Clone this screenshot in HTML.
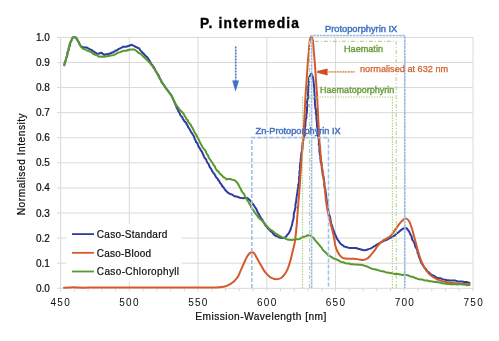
<!DOCTYPE html>
<html><head><meta charset="utf-8"><style>
html,body{margin:0;padding:0;background:#fff;}
svg{display:block;font-family:"Liberation Sans",Arial,sans-serif;}
.t{stroke:#0D0D0D;stroke-width:0.2px;}
</style></head><body>
<svg width="499" height="341" viewBox="0 0 499 341">
<rect width="499" height="341" fill="#fff"/>
<line x1="60.60" y1="263.21" x2="473.04" y2="263.21" stroke="#D9D9D9" stroke-width="1"/>
<line x1="60.60" y1="238.12" x2="473.04" y2="238.12" stroke="#D9D9D9" stroke-width="1"/>
<line x1="60.60" y1="213.03" x2="473.04" y2="213.03" stroke="#D9D9D9" stroke-width="1"/>
<line x1="60.60" y1="187.94" x2="473.04" y2="187.94" stroke="#D9D9D9" stroke-width="1"/>
<line x1="60.60" y1="162.85" x2="473.04" y2="162.85" stroke="#D9D9D9" stroke-width="1"/>
<line x1="60.60" y1="137.76" x2="473.04" y2="137.76" stroke="#D9D9D9" stroke-width="1"/>
<line x1="60.60" y1="112.67" x2="473.04" y2="112.67" stroke="#D9D9D9" stroke-width="1"/>
<line x1="60.60" y1="87.58" x2="473.04" y2="87.58" stroke="#D9D9D9" stroke-width="1"/>
<line x1="60.60" y1="62.49" x2="473.04" y2="62.49" stroke="#D9D9D9" stroke-width="1"/>
<line x1="60.60" y1="37.40" x2="473.04" y2="37.40" stroke="#D9D9D9" stroke-width="1"/>
<line x1="129.34" y1="37.40" x2="129.34" y2="288.30" stroke="#D9D9D9" stroke-width="1"/>
<line x1="198.08" y1="37.40" x2="198.08" y2="288.30" stroke="#D9D9D9" stroke-width="1"/>
<line x1="266.82" y1="37.40" x2="266.82" y2="288.30" stroke="#D9D9D9" stroke-width="1"/>
<line x1="335.56" y1="37.40" x2="335.56" y2="288.30" stroke="#D9D9D9" stroke-width="1"/>
<line x1="404.30" y1="37.40" x2="404.30" y2="288.30" stroke="#D9D9D9" stroke-width="1"/>
<line x1="473.04" y1="37.40" x2="473.04" y2="288.30" stroke="#D9D9D9" stroke-width="1"/>
<line x1="60.60" y1="37.40" x2="60.60" y2="291.50" stroke="#D9D9D9" stroke-width="1"/>
<line x1="57.00" y1="288.30" x2="473.54" y2="288.30" stroke="#D9D9D9" stroke-width="1"/>
<line x1="57.00" y1="263.21" x2="60.60" y2="263.21" stroke="#D9D9D9" stroke-width="1"/>
<line x1="57.00" y1="238.12" x2="60.60" y2="238.12" stroke="#D9D9D9" stroke-width="1"/>
<line x1="57.00" y1="213.03" x2="60.60" y2="213.03" stroke="#D9D9D9" stroke-width="1"/>
<line x1="57.00" y1="187.94" x2="60.60" y2="187.94" stroke="#D9D9D9" stroke-width="1"/>
<line x1="57.00" y1="162.85" x2="60.60" y2="162.85" stroke="#D9D9D9" stroke-width="1"/>
<line x1="57.00" y1="137.76" x2="60.60" y2="137.76" stroke="#D9D9D9" stroke-width="1"/>
<line x1="57.00" y1="112.67" x2="60.60" y2="112.67" stroke="#D9D9D9" stroke-width="1"/>
<line x1="57.00" y1="87.58" x2="60.60" y2="87.58" stroke="#D9D9D9" stroke-width="1"/>
<line x1="57.00" y1="62.49" x2="60.60" y2="62.49" stroke="#D9D9D9" stroke-width="1"/>
<line x1="57.00" y1="37.40" x2="60.60" y2="37.40" stroke="#D9D9D9" stroke-width="1"/>
<line x1="74.35" y1="288.30" x2="74.35" y2="291.50" stroke="#D9D9D9" stroke-width="1"/>
<line x1="88.10" y1="288.30" x2="88.10" y2="291.50" stroke="#D9D9D9" stroke-width="1"/>
<line x1="101.84" y1="288.30" x2="101.84" y2="291.50" stroke="#D9D9D9" stroke-width="1"/>
<line x1="115.59" y1="288.30" x2="115.59" y2="291.50" stroke="#D9D9D9" stroke-width="1"/>
<line x1="129.34" y1="288.30" x2="129.34" y2="291.50" stroke="#D9D9D9" stroke-width="1"/>
<line x1="143.09" y1="288.30" x2="143.09" y2="291.50" stroke="#D9D9D9" stroke-width="1"/>
<line x1="156.84" y1="288.30" x2="156.84" y2="291.50" stroke="#D9D9D9" stroke-width="1"/>
<line x1="170.58" y1="288.30" x2="170.58" y2="291.50" stroke="#D9D9D9" stroke-width="1"/>
<line x1="184.33" y1="288.30" x2="184.33" y2="291.50" stroke="#D9D9D9" stroke-width="1"/>
<line x1="198.08" y1="288.30" x2="198.08" y2="291.50" stroke="#D9D9D9" stroke-width="1"/>
<line x1="211.83" y1="288.30" x2="211.83" y2="291.50" stroke="#D9D9D9" stroke-width="1"/>
<line x1="225.58" y1="288.30" x2="225.58" y2="291.50" stroke="#D9D9D9" stroke-width="1"/>
<line x1="239.32" y1="288.30" x2="239.32" y2="291.50" stroke="#D9D9D9" stroke-width="1"/>
<line x1="253.07" y1="288.30" x2="253.07" y2="291.50" stroke="#D9D9D9" stroke-width="1"/>
<line x1="266.82" y1="288.30" x2="266.82" y2="291.50" stroke="#D9D9D9" stroke-width="1"/>
<line x1="280.57" y1="288.30" x2="280.57" y2="291.50" stroke="#D9D9D9" stroke-width="1"/>
<line x1="294.32" y1="288.30" x2="294.32" y2="291.50" stroke="#D9D9D9" stroke-width="1"/>
<line x1="308.06" y1="288.30" x2="308.06" y2="291.50" stroke="#D9D9D9" stroke-width="1"/>
<line x1="321.81" y1="288.30" x2="321.81" y2="291.50" stroke="#D9D9D9" stroke-width="1"/>
<line x1="335.56" y1="288.30" x2="335.56" y2="291.50" stroke="#D9D9D9" stroke-width="1"/>
<line x1="349.31" y1="288.30" x2="349.31" y2="291.50" stroke="#D9D9D9" stroke-width="1"/>
<line x1="363.06" y1="288.30" x2="363.06" y2="291.50" stroke="#D9D9D9" stroke-width="1"/>
<line x1="376.80" y1="288.30" x2="376.80" y2="291.50" stroke="#D9D9D9" stroke-width="1"/>
<line x1="390.55" y1="288.30" x2="390.55" y2="291.50" stroke="#D9D9D9" stroke-width="1"/>
<line x1="404.30" y1="288.30" x2="404.30" y2="291.50" stroke="#D9D9D9" stroke-width="1"/>
<line x1="418.05" y1="288.30" x2="418.05" y2="291.50" stroke="#D9D9D9" stroke-width="1"/>
<line x1="431.80" y1="288.30" x2="431.80" y2="291.50" stroke="#D9D9D9" stroke-width="1"/>
<line x1="445.54" y1="288.30" x2="445.54" y2="291.50" stroke="#D9D9D9" stroke-width="1"/>
<line x1="459.29" y1="288.30" x2="459.29" y2="291.50" stroke="#D9D9D9" stroke-width="1"/>
<line x1="473.04" y1="288.30" x2="473.04" y2="291.50" stroke="#D9D9D9" stroke-width="1"/>
<rect x="66" y="224" width="116" height="58" fill="#fff"/>
<polyline points="64.3,65.2 64.6,63.3 65.4,61.6 65.8,59.8 66.4,58.0 66.9,56.2 67.4,54.7 67.4,53.0 67.8,51.4 68.7,50.0 68.7,48.4 69.1,46.8 70.0,45.4 70.1,43.8 70.5,42.2 71.4,40.8 71.9,39.2 72.6,37.7 74.3,37.0 76.1,37.7 76.9,39.2 77.8,40.7 78.9,42.4 79.6,44.3 81.4,46.8 84.5,47.4 87.0,47.6 88.5,48.5 90.0,49.4 91.7,50.0 93.4,51.3 95.2,52.6 96.8,53.4 98.5,53.8 101.5,52.8 102.9,53.9 104.4,54.9 105.9,54.2 107.6,54.3 109.1,53.8 110.7,53.3 112.2,52.5 113.8,52.0 115.2,50.8 117.1,50.3 118.5,49.1 120.1,48.3 121.7,47.6 123.2,46.7 126.1,46.7 129.0,45.8 131.8,44.8 134.4,46.2 137.0,47.5 139.2,48.4 140.1,50.1 141.4,51.4 142.6,52.9 144.1,54.1 145.2,55.6 146.7,56.7 148.5,58.9 149.4,60.4 150.2,62.0 151.2,63.9 152.6,65.5 153.7,67.1 154.8,68.8 155.3,70.4 156.2,71.9 157.2,73.2 158.3,74.9 159.2,76.7 159.8,78.6 161.0,80.2 161.5,82.1 162.8,83.6 164.2,85.5 165.5,87.5 166.4,88.9 167.6,90.1 168.5,91.5 169.9,93.4 171.3,95.2 172.3,97.2 173.2,99.3 174.0,100.9 174.6,102.7 175.4,104.3 176.2,106.0 176.6,107.6 177.5,108.9 178.0,110.5 178.8,111.9 179.7,113.2 180.2,114.8 181.2,116.1 182.4,117.3 182.8,118.9 183.8,120.2 184.7,121.6 186.1,122.6 186.6,124.2 187.6,125.6 188.2,127.1 189.1,128.5 190.1,129.8 190.7,131.5 191.7,132.9 192.6,134.3 193.5,135.7 194.3,137.1 194.6,138.8 195.5,140.2 196.0,141.9 197.4,143.2 197.9,144.9 198.6,146.7 199.7,148.2 200.6,149.8 201.7,151.3 202.5,153.0 203.2,154.7 203.9,156.4 204.7,158.0 206.1,159.3 206.7,161.1 207.5,162.8 208.7,164.2 209.2,166.0 210.2,167.6 211.3,169.1 212.1,170.9 213.1,172.6 214.4,174.0 215.3,175.5 216.0,177.2 217.4,178.4 218.2,180.0 219.4,181.3 220.0,182.9 221.3,184.2 222.0,185.8 223.4,187.2 224.5,188.9 225.6,190.5 227.3,192.1 229.1,193.5 230.8,194.1 232.4,194.7 233.8,195.8 235.3,196.5 237.0,196.6 238.5,197.2 240.0,197.8 241.6,198.1 243.2,198.2 245.2,198.0 247.3,197.9 248.8,199.2 250.2,200.5 251.3,201.9 252.3,203.4 253.5,204.7 254.4,206.3 255.5,207.9 256.5,209.4 257.1,210.9 257.7,212.4 258.7,213.8 259.4,215.2 260.3,216.7 261.0,218.2 262.2,219.5 262.9,221.1 264.2,222.8 265.0,224.8 266.4,226.4 267.8,228.0 269.1,229.6 270.5,231.1 272.1,232.2 273.3,233.8 274.6,235.2 276.1,236.0 277.9,236.4 279.3,237.5 281.3,237.9 283.4,238.1 284.9,237.3 286.4,236.4 287.1,234.9 288.4,233.7 289.3,232.3 290.6,229.5 291.1,227.5 291.9,225.5 292.3,223.5 292.6,221.6 293.2,219.8 293.6,218.0 293.8,216.1 293.8,214.2 294.1,212.4 294.8,210.6 295.0,208.8 295.6,207.1 295.3,205.3 295.7,203.5 296.1,201.8 296.3,200.0 296.4,198.3 296.7,196.7 296.9,195.1 297.2,193.4 297.5,191.8 297.6,190.2 297.9,188.5 298.4,186.9 298.1,185.2 298.7,183.6 298.9,182.0 299.2,180.3 299.0,178.6 299.1,176.9 299.6,175.2 299.4,173.5 299.5,171.8 299.8,170.2 300.1,168.5 299.8,166.7 300.1,165.1 300.2,163.4 300.7,161.7 300.6,160.0 300.8,158.3 301.3,156.6 301.1,154.8 301.4,153.1 301.8,151.4 302.2,149.7 302.2,148.0 302.4,146.2 302.5,144.5 302.6,142.7 303.2,141.0 303.2,139.2 303.6,137.5 304.0,135.8 304.3,134.2 304.1,132.4 304.3,130.7 304.9,129.1 305.0,127.4 305.4,125.7 305.4,124.0 305.5,122.3 305.6,120.5 305.9,118.8 306.5,117.2 306.3,115.4 306.6,113.7 306.9,112.0 307.0,110.3 307.0,108.6 307.1,106.9 307.5,105.2 307.1,103.4 307.0,101.7 307.4,100.0 307.9,98.4 307.9,96.7 308.1,95.0 307.8,93.3 308.3,91.7 308.1,90.0 308.5,88.4 308.1,86.8 308.6,85.2 308.8,83.6 308.6,82.0 309.0,80.0 309.1,78.0 309.7,76.0 310.3,74.5 311.1,73.6 311.9,74.5 312.5,76.0 313.1,78.0 313.3,80.0 313.6,82.0 313.8,83.6 313.9,85.2 314.1,86.8 314.4,88.4 314.2,90.0 314.3,91.7 314.6,93.3 314.4,95.0 315.0,96.6 314.5,98.4 314.9,100.0 314.9,101.7 314.9,103.5 315.1,105.2 315.2,106.9 315.5,108.6 316.1,110.3 315.9,112.0 315.8,113.7 316.4,115.4 316.5,117.1 316.4,118.9 316.7,120.6 316.9,122.3 317.0,124.0 316.9,125.7 317.3,127.4 317.6,129.1 317.9,130.7 317.6,132.5 318.1,134.1 318.0,135.8 318.4,137.5 318.7,139.2 318.9,141.0 318.9,142.8 318.8,144.5 319.5,146.2 319.4,148.0 319.4,149.7 319.4,151.5 319.7,153.2 319.9,154.9 320.6,156.5 320.3,158.3 320.6,160.0 320.6,161.7 321.4,163.3 321.5,165.0 321.8,166.6 321.8,168.3 322.1,170.0 322.4,171.6 322.6,173.3 322.7,175.0 323.5,176.5 323.7,178.2 323.9,179.8 324.2,181.4 324.5,183.1 324.1,184.8 324.7,186.4 324.7,188.1 325.5,189.7 325.4,191.4 325.8,193.0 326.0,194.6 326.2,196.3 326.3,198.0 326.6,199.6 327.0,201.2 327.1,202.9 327.6,204.6 327.8,206.3 328.2,208.0 328.2,209.8 328.4,211.5 328.8,213.2 329.3,214.9 329.9,216.5 330.3,218.2 330.5,219.9 330.8,221.6 331.1,223.3 331.7,224.9 332.4,226.6 332.7,228.5 333.4,230.2 334.1,231.9 334.7,233.7 335.5,235.1 336.2,236.6 336.7,238.2 337.6,239.6 338.6,240.9 339.4,242.4 340.5,243.7 342.4,245.1 344.2,246.6 345.9,246.9 347.6,247.5 349.3,247.9 351.5,248.0 353.7,247.9 356.0,248.0 358.1,248.7 360.1,249.2 362.0,249.7 364.0,250.3 366.3,250.0 368.4,249.1 370.5,248.6 372.3,247.5 373.7,246.5 375.4,245.8 376.7,244.6 378.3,244.0 379.6,243.0 381.1,242.4 382.6,241.6 383.9,240.7 385.5,240.2 387.4,239.5 389.2,238.4 391.1,237.6 392.9,236.5 394.9,235.3 396.5,233.6 398.5,232.3 400.2,230.7 401.7,229.7 403.1,228.5 405.0,228.5 406.8,228.2 407.7,229.8 409.0,231.2 409.7,232.9 410.3,234.4 411.3,235.8 411.8,237.4 412.0,239.1 412.8,240.5 413.8,241.9 414.4,243.3 415.0,244.8 415.2,246.5 416.1,247.9 416.9,249.4 417.5,251.0 417.5,252.8 418.6,254.3 418.6,256.1 419.4,257.6 420.1,259.4 420.8,261.3 421.5,263.1 422.6,264.8 423.6,266.3 424.4,267.8 425.9,268.9 426.6,270.5 427.9,271.8 429.4,272.9 430.8,274.2 432.3,275.3 434.0,275.8 435.4,276.9 437.0,277.8 438.7,278.2 440.4,278.3 442.0,278.9 443.6,279.4 445.2,279.8 446.8,280.3 448.4,280.2 450.0,280.6 451.8,280.4 453.6,280.4 455.4,280.6 457.6,281.5 459.8,281.6 462.0,281.5 464.2,281.9 466.4,281.9 468.0,282.4 469.5,283.0" fill="none" stroke="#2F3C9E" stroke-width="2" stroke-linejoin="round" stroke-linecap="round"/>
<path d="M64.00,287.80 C64.83,287.77 67.40,287.70 69.00,287.60 C70.60,287.50 72.10,287.20 73.60,287.20 C75.10,287.20 73.60,287.53 78.00,287.60 C82.40,287.67 88.00,287.60 100.00,287.60 C112.00,287.60 131.83,287.62 150.00,287.60 C168.17,287.58 197.13,287.60 209.00,287.50 C220.87,287.40 218.38,287.23 221.20,287.00 C224.02,286.77 224.33,286.62 225.90,286.10 C227.47,285.58 229.18,284.75 230.60,283.90 C232.02,283.05 233.18,282.18 234.40,281.00 C235.62,279.82 236.97,278.27 237.90,276.80 C238.83,275.33 239.27,273.87 240.00,272.20 C240.73,270.53 241.52,268.58 242.30,266.80 C243.08,265.02 243.92,263.17 244.70,261.50 C245.48,259.83 246.30,258.05 247.00,256.80 C247.70,255.55 248.33,254.70 248.90,254.00 C249.47,253.30 249.92,252.90 250.40,252.60 C250.88,252.30 251.33,252.20 251.80,252.20 C252.27,252.20 252.72,252.30 253.20,252.60 C253.68,252.90 254.17,253.23 254.70,254.00 C255.23,254.77 255.72,255.95 256.40,257.20 C257.08,258.45 258.02,260.10 258.80,261.50 C259.58,262.90 260.33,264.25 261.10,265.60 C261.87,266.95 262.62,268.38 263.40,269.60 C264.18,270.82 264.92,271.85 265.80,272.90 C266.68,273.95 267.67,275.03 268.70,275.90 C269.73,276.77 270.70,277.55 272.00,278.10 C273.30,278.65 274.98,279.22 276.50,279.20 C278.02,279.18 279.78,278.75 281.10,278.00 C282.42,277.25 283.30,276.23 284.40,274.70 C285.50,273.17 286.70,271.12 287.70,268.80 C288.70,266.48 289.62,263.55 290.40,260.80 C291.18,258.05 291.77,254.93 292.40,252.30 C293.03,249.67 293.73,247.12 294.20,245.00 C294.67,242.88 294.78,242.95 295.20,239.60 C295.62,236.25 296.27,229.83 296.70,224.90 C297.13,219.97 297.30,216.42 297.80,210.00 C298.30,203.58 299.09,194.73 299.70,186.40 C300.31,178.07 300.98,166.40 301.45,160.00 C301.92,153.60 302.18,151.75 302.50,148.00 C302.82,144.25 303.13,141.50 303.40,137.50 C303.67,133.50 303.88,128.25 304.10,124.00 C304.32,119.75 304.53,115.33 304.70,112.00 C304.87,108.67 304.96,106.83 305.10,104.00 C305.24,101.17 305.37,98.00 305.55,95.00 C305.73,92.00 306.00,88.83 306.20,86.00 C306.40,83.17 306.57,80.67 306.75,78.00 C306.93,75.33 307.12,72.67 307.30,70.00 C307.48,67.33 307.67,64.33 307.85,62.00 C308.03,59.67 308.23,57.83 308.40,56.00 C308.57,54.17 308.71,52.83 308.85,51.00 C308.99,49.17 309.11,46.67 309.25,45.00 C309.39,43.33 309.55,42.00 309.70,41.00 C309.85,40.00 309.98,39.58 310.15,39.00 C310.32,38.42 310.51,37.90 310.70,37.50 C310.89,37.10 311.10,36.60 311.30,36.60 C311.50,36.60 311.71,37.10 311.90,37.50 C312.09,37.90 312.28,38.42 312.45,39.00 C312.62,39.58 312.75,40.00 312.90,41.00 C313.05,42.00 313.21,43.33 313.35,45.00 C313.49,46.67 313.61,49.17 313.75,51.00 C313.89,52.83 314.03,54.17 314.20,56.00 C314.37,57.83 314.57,59.67 314.75,62.00 C314.93,64.33 315.12,67.33 315.30,70.00 C315.48,72.67 315.67,75.33 315.85,78.00 C316.03,80.67 316.20,83.17 316.40,86.00 C316.60,88.83 316.87,92.00 317.05,95.00 C317.23,98.00 317.36,101.17 317.50,104.00 C317.64,106.83 317.73,108.67 317.90,112.00 C318.07,115.33 318.28,119.75 318.50,124.00 C318.72,128.25 318.93,133.50 319.20,137.50 C319.47,141.50 319.78,144.25 320.10,148.00 C320.43,151.75 320.40,153.60 321.15,160.00 C321.90,166.40 323.81,179.73 324.60,186.40 C325.39,193.07 325.32,195.53 325.90,200.00 C326.48,204.47 327.25,209.05 328.10,213.20 C328.95,217.35 330.03,220.98 331.00,224.90 C331.97,228.82 333.17,233.20 333.90,236.70 C334.63,240.20 334.78,243.40 335.40,245.90 C336.02,248.40 336.75,250.00 337.60,251.70 C338.45,253.40 339.52,255.00 340.50,256.10 C341.48,257.20 342.03,257.85 343.50,258.30 C344.97,258.75 347.52,258.73 349.30,258.80 C351.08,258.87 352.58,258.60 354.20,258.70 C355.82,258.80 357.50,259.20 359.00,259.40 C360.50,259.60 361.78,260.07 363.20,259.90 C364.62,259.73 366.20,259.25 367.50,258.40 C368.80,257.55 369.92,256.00 371.00,254.80 C372.08,253.60 372.80,252.78 374.00,251.20 C375.20,249.62 376.77,247.02 378.20,245.30 C379.63,243.58 381.13,242.05 382.60,240.90 C384.07,239.75 385.53,239.37 387.00,238.40 C388.47,237.43 390.05,236.52 391.40,235.10 C392.75,233.68 393.88,231.62 395.10,229.90 C396.32,228.18 397.48,226.38 398.70,224.80 C399.92,223.22 401.22,221.45 402.40,220.40 C403.58,219.35 404.70,218.38 405.80,218.50 C406.90,218.62 407.98,219.43 409.00,221.10 C410.02,222.77 411.02,225.80 411.90,228.50 C412.78,231.20 413.62,234.80 414.30,237.30 C414.98,239.80 415.30,240.93 416.00,243.50 C416.70,246.07 417.53,249.55 418.50,252.70 C419.47,255.85 420.58,259.57 421.80,262.40 C423.02,265.23 424.33,267.55 425.80,269.70 C427.27,271.85 428.72,273.68 430.60,275.30 C432.48,276.92 434.95,278.37 437.10,279.40 C439.25,280.43 441.35,280.97 443.50,281.50 C445.65,282.03 447.65,282.27 450.00,282.60 C452.35,282.93 454.35,283.23 457.60,283.50 C460.85,283.77 467.52,284.08 469.50,284.20" fill="none" stroke="#D55A2B" stroke-width="2" stroke-linejoin="round" stroke-linecap="round"/>
<polyline points="64.3,65.2 64.7,63.4 65.1,61.5 66.0,59.8 66.1,57.9 66.9,56.2 67.3,54.7 67.6,53.1 67.8,51.5 68.5,50.0 68.6,48.3 69.3,46.9 69.4,45.2 69.8,43.7 70.5,42.2 71.2,40.7 72.1,39.3 72.6,37.7 74.3,37.0 76.1,37.7 77.2,39.1 77.8,40.7 78.9,42.4 79.6,44.3 80.4,45.7 81.4,47.1 83.1,48.8 85.2,49.5 86.8,50.5 88.7,51.0 90.5,51.7 92.1,52.7 93.4,54.0 95.2,54.8 96.8,55.1 98.1,56.3 99.7,56.7 102.1,56.6 104.4,56.7 106.7,56.2 109.1,56.1 110.6,55.4 112.2,55.2 113.8,54.9 115.5,54.3 116.8,53.2 118.5,52.6 120.1,52.1 121.7,51.5 123.2,50.8 126.1,50.8 129.0,49.7 130.7,49.5 132.5,49.4 134.4,49.5 136.6,51.0 138.4,52.8 139.7,53.2 141.4,54.5 142.7,55.9 144.1,57.2 146.3,59.3 148.5,61.5 150.0,62.9 151.1,64.6 152.5,66.1 153.5,67.9 155.3,70.2 156.5,72.0 157.4,74.0 158.1,75.7 159.1,77.2 159.9,78.8 161.0,80.3 161.8,82.0 162.8,83.6 164.1,85.5 165.4,87.5 166.5,88.7 167.2,90.3 168.4,91.5 169.6,93.3 171.0,95.0 172.2,96.9 173.0,99.0 173.9,100.6 174.8,102.2 175.5,103.9 176.6,105.4 177.4,106.8 178.7,107.9 179.3,109.4 180.5,110.5 182.5,112.5 183.8,114.0 184.6,115.7 185.6,117.3 186.4,119.0 187.7,120.3 188.5,122.0 189.5,123.5 190.8,124.8 191.5,126.5 192.6,127.9 193.2,129.4 194.0,130.8 194.5,132.4 195.5,133.7 196.6,135.4 197.4,137.3 198.5,139.0 199.2,140.6 199.9,142.2 200.8,143.7 201.5,145.3 202.5,147.0 203.6,148.6 205.0,150.0 205.9,151.7 206.6,153.6 207.9,155.1 208.5,157.0 209.4,158.6 210.5,160.0 211.3,161.6 212.6,162.9 213.3,164.6 214.5,166.0 215.3,167.7 216.1,169.3 217.1,170.7 218.6,171.7 219.5,173.2 220.7,174.4 222.0,175.4 223.0,176.8 224.9,177.9 226.5,179.5 228.3,178.9 230.2,179.0 232.3,179.8 234.5,180.3 236.1,181.4 237.3,182.9 238.6,184.9 239.6,187.0 240.7,188.7 241.4,190.7 242.6,192.3 243.8,193.7 244.6,195.4 245.5,197.0 246.4,198.6 247.2,200.3 248.4,201.7 249.3,203.6 250.5,205.3 251.2,207.3 252.3,209.0 253.6,210.6 254.7,212.4 255.9,214.1 257.1,215.4 258.0,216.9 259.2,218.3 260.6,219.4 261.9,220.5 263.1,221.8 264.2,223.2 265.2,224.6 266.5,225.6 267.6,226.9 268.7,228.2 269.9,229.3 271.6,230.3 273.2,231.4 274.6,232.8 276.2,233.8 277.8,234.7 279.3,235.8 280.8,236.5 282.3,237.4 284.0,237.7 285.9,238.8 287.9,239.7 289.7,239.8 291.6,239.9 293.5,239.7 295.3,239.3 297.5,239.2 299.7,238.9 301.4,237.7 303.3,237.0 305.6,236.4 307.7,235.2 310.7,235.9 312.0,237.0 313.6,237.8 314.4,239.3 315.4,240.6 316.5,241.8 317.8,243.2 319.0,244.7 320.2,246.2 321.6,247.6 322.5,249.3 323.7,250.8 325.4,252.1 326.9,253.7 328.1,255.4 329.9,256.2 331.6,257.1 333.2,258.3 334.8,258.9 336.5,259.5 338.0,260.2 339.5,261.0 341.0,262.0 343.1,262.3 345.0,263.0 347.0,263.6 349.0,263.5 351.0,264.3 353.0,264.2 355.0,264.5 357.0,264.4 359.0,264.8 360.6,264.8 362.2,265.1 363.8,265.4 365.5,266.0 367.2,266.5 368.7,267.4 370.6,268.2 372.6,268.9 374.7,269.2 376.7,269.8 378.7,270.4 380.7,271.0 382.8,271.3 384.8,271.8 386.7,272.6 388.7,272.8 390.7,273.0 392.7,273.4 394.5,273.9 396.5,273.8 398.4,274.0 400.2,274.6 402.5,274.9 404.9,274.6 406.5,275.1 408.2,275.4 409.7,276.1 411.3,276.7 413.0,276.8 414.5,277.7 416.1,278.2 417.6,278.9 419.3,279.2 420.9,279.5 422.6,279.6 424.2,280.2 425.8,280.4 427.5,280.5 429.0,281.2 430.7,281.3 432.3,281.5 433.9,281.9 435.5,281.8 437.1,282.0 438.7,282.6 440.3,282.6 441.9,283.2 443.7,283.4 445.4,283.6 447.1,283.9 448.8,283.9 450.5,284.2 452.3,283.9 454.1,284.3 455.8,284.3 457.6,284.5 459.3,284.2 461.0,284.3 462.7,284.6 464.4,284.6 466.1,285.0 467.8,285.2 469.5,285.0" fill="none" stroke="#5A9830" stroke-width="2" stroke-linejoin="round" stroke-linecap="round"/>
<path d="M251.8,288 V137.6 H328.5 V288" fill="none" stroke="#A2C0EA" stroke-width="1.6" stroke-dasharray="4,2"/>
<path d="M311.6,288 V35.5 H404.9 V288" fill="none" stroke="#9EBCE6" stroke-width="1.6" stroke-dasharray="2.6,0.7"/>
<path d="M309.5,288 V41.4 H396.2 V288" fill="none" stroke="#B3D68E" stroke-width="1.1" stroke-dasharray="3.9,2.1,0.9,2.1"/>
<path d="M302.5,288 V97 H392.4 V288" fill="none" stroke="#A6CB7A" stroke-width="1.1" stroke-dasharray="1.3,1.3"/>
<line x1="72" y1="234.1" x2="94" y2="234.1" stroke="#2F3C9E" stroke-width="1.8"/>
<text x="96.8" y="238.0" font-size="10" textLength="70.5" lengthAdjust="spacing" fill="#0D0D0D" class="t">Caso-Standard</text>
<line x1="72" y1="252.8" x2="94" y2="252.8" stroke="#D55A2B" stroke-width="1.8"/>
<text x="96.8" y="256.7" font-size="10" textLength="54.3" lengthAdjust="spacing" fill="#0D0D0D" class="t">Caso-Blood</text>
<line x1="72" y1="271.5" x2="94" y2="271.5" stroke="#5A9830" stroke-width="1.8"/>
<text x="96.8" y="275.4" font-size="10" textLength="82.3" lengthAdjust="spacing" fill="#0D0D0D" class="t">Caso-Chlorophyll</text>
<line x1="235.7" y1="46.5" x2="235.7" y2="81" stroke="#4472C4" stroke-width="1.6" stroke-dasharray="2,1"/>
<path d="M232.2,80.4 L239,80.4 L235.5,91.8 Z" fill="#4472C4"/>
<line x1="328.6" y1="71.9" x2="354.8" y2="71.9" stroke="#E69A6B" stroke-width="1.9" stroke-dasharray="2.1,0.65"/>
<path d="M317.2,71.1 L317.2,72.7 L327.6,75.4 L327.6,68.5 Z" fill="#D24C27"/>
<text x="325" y="31.6" font-size="9.0" textLength="72.3" lengthAdjust="spacingAndGlyphs" fill="#4472C4" stroke="#4472C4" stroke-width="0.45">Protoporphyrin IX</text>
<text x="344" y="51.8" font-size="9.2" textLength="39" lengthAdjust="spacingAndGlyphs" fill="#70A040" stroke="#70A040" stroke-width="0.45">Haematin</text>
<text x="360" y="71.8" font-size="9.1" textLength="88.2" lengthAdjust="spacingAndGlyphs" fill="#D2602C" stroke="#D2602C" stroke-width="0.25">normalised at 632 nm</text>
<text x="320.1" y="92.9" font-size="9.2" textLength="74.1" lengthAdjust="spacingAndGlyphs" fill="#70A040" stroke="#70A040" stroke-width="0.45">Haematoporphyrin</text>
<text x="255.6" y="134" font-size="9.0" textLength="85" lengthAdjust="spacingAndGlyphs" fill="#4472C4" stroke="#4472C4" stroke-width="0.45">Zn-Protoporphyrin IX</text>
<text x="199.9" y="28" font-size="13.8" font-weight="bold" textLength="99.1" lengthAdjust="spacing" fill="#000" stroke="#000" stroke-width="0.35">P. intermedia</text>
<text x="49.8" y="291.8" font-size="10" text-anchor="end" fill="#0D0D0D" class="t">0.0</text>
<text x="49.8" y="266.7" font-size="10" text-anchor="end" fill="#0D0D0D" class="t">0.1</text>
<text x="49.8" y="241.6" font-size="10" text-anchor="end" fill="#0D0D0D" class="t">0.2</text>
<text x="49.8" y="216.5" font-size="10" text-anchor="end" fill="#0D0D0D" class="t">0.3</text>
<text x="49.8" y="191.4" font-size="10" text-anchor="end" fill="#0D0D0D" class="t">0.4</text>
<text x="49.8" y="166.3" font-size="10" text-anchor="end" fill="#0D0D0D" class="t">0.5</text>
<text x="49.8" y="141.2" font-size="10" text-anchor="end" fill="#0D0D0D" class="t">0.6</text>
<text x="49.8" y="116.1" font-size="10" text-anchor="end" fill="#0D0D0D" class="t">0.7</text>
<text x="49.8" y="91.0" font-size="10" text-anchor="end" fill="#0D0D0D" class="t">0.8</text>
<text x="49.8" y="65.9" font-size="10" text-anchor="end" fill="#0D0D0D" class="t">0.9</text>
<text x="49.8" y="40.9" font-size="10" text-anchor="end" fill="#0D0D0D" class="t">1.0</text>
<text x="50.5" y="305.8" font-size="10" textLength="19.2" lengthAdjust="spacing" fill="#0D0D0D">450</text>
<text x="119.3" y="305.8" font-size="10" textLength="19.2" lengthAdjust="spacing" fill="#0D0D0D">500</text>
<text x="188.2" y="305.8" font-size="10" textLength="19.2" lengthAdjust="spacing" fill="#0D0D0D">550</text>
<text x="257.0" y="305.8" font-size="10" textLength="19.2" lengthAdjust="spacing" fill="#0D0D0D">600</text>
<text x="325.8" y="305.8" font-size="10" textLength="19.2" lengthAdjust="spacing" fill="#0D0D0D">650</text>
<text x="394.7" y="305.8" font-size="10" textLength="19.2" lengthAdjust="spacing" fill="#0D0D0D">700</text>
<text x="463.5" y="305.8" font-size="10" textLength="19.2" lengthAdjust="spacing" fill="#0D0D0D">750</text>
<text x="195.3" y="320.4" font-size="10.2" textLength="131" lengthAdjust="spacing" fill="#0D0D0D" class="t">Emission-Wavelength [nm]</text>
<text transform="translate(24.9,215.3) rotate(-90)" x="0" y="0" font-size="10.2" textLength="102" lengthAdjust="spacing" fill="#0D0D0D" class="t">Normalised Intensity</text>
</svg>
</body></html>
